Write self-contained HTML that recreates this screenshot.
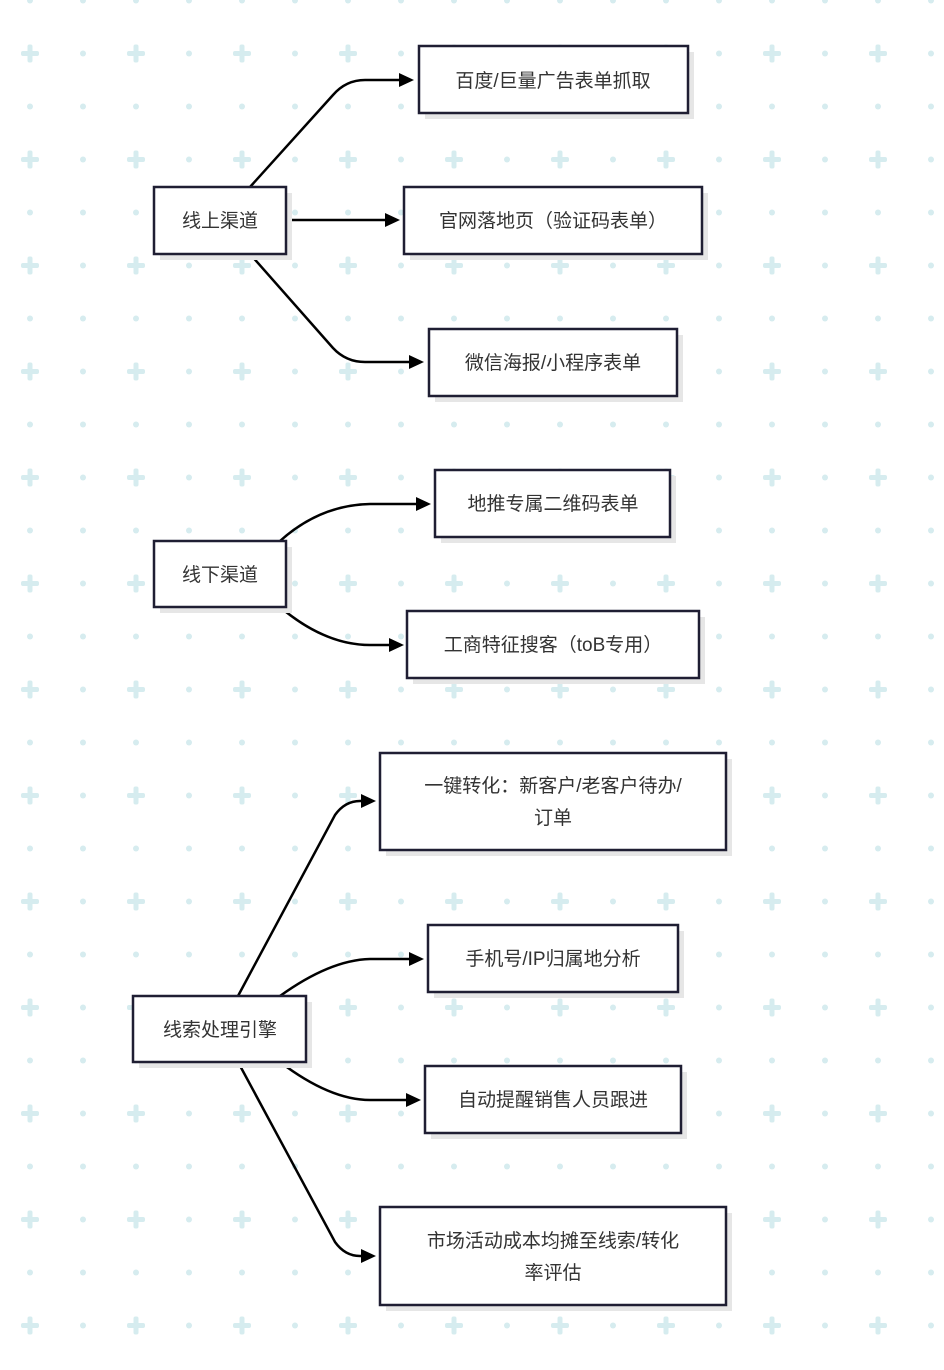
<!DOCTYPE html>
<html><head><meta charset="utf-8"><style>
html,body{margin:0;padding:0;background:#fff;}
svg{display:block;}
text{font-family:"Liberation Sans","Noto Sans CJK SC",sans-serif;font-size:19px;fill:#333;}
</style></head><body>
<svg width="944" height="1370" viewBox="0 0 944 1370" xmlns="http://www.w3.org/2000/svg">
<defs>
<pattern id="g" x="4" y="27" width="106" height="106" patternUnits="userSpaceOnUse">
<rect x="17" y="24" width="18" height="5" rx="2" fill="#d6ecef"/>
<rect x="23.5" y="17.5" width="5" height="18" rx="2" fill="#d6ecef"/>
<circle cx="79" cy="26.5" r="3" fill="#d6ecef"/>
<circle cx="26" cy="79.5" r="3" fill="#d6ecef"/>
<circle cx="79" cy="79.5" r="3" fill="#d6ecef"/>
</pattern>
<marker id="a" viewBox="0 0 10 10" refX="9" refY="5" markerWidth="6" markerHeight="6" markerUnits="userSpaceOnUse" orient="auto">
</marker>
</defs>
<rect width="944" height="1370" fill="url(#g)"/>
<g fill="none" stroke="#000" stroke-width="2.5">
<path d="M250 187 L333 95 Q346 80 365 80 L400 80"/>
<path d="M286 220 L386 220"/>
<path d="M250 254 L333 348 Q346 362 365 362 L410 362"/>
<path d="M280 541 Q320 505 370 504 L418 504"/>
<path d="M280 607 Q325 645 370 645 L390 645"/>
<path d="M238 996 L335 815 Q345 801 360 801 L363 801"/>
<path d="M280 996 Q330 960 370 959 L410 959"/>
<path d="M280 1062 Q330 1100 370 1100 L408 1100"/>
<path d="M238 1062 L335 1242 Q345 1256 360 1256 L363 1256"/>
</g>
<g fill="#000">
<polygon points="414,80 399,73 399,87"/>
<polygon points="400,220 385,213 385,227"/>
<polygon points="424,362 409,355 409,369"/>
<polygon points="431,504 416,497 416,511"/>
<polygon points="404,645 389,638 389,652"/>
<polygon points="376,801 361,794 361,808"/>
<polygon points="424,959 409,952 409,966"/>
<polygon points="421,1100 406,1093 406,1107"/>
<polygon points="376,1256 361,1249 361,1263"/>
</g>
<g fill="#e6e6e6">
<rect x="160" y="193" width="132" height="67"/>
<rect x="425" y="52" width="269" height="67"/>
<rect x="410" y="193" width="298" height="67"/>
<rect x="435" y="335" width="248" height="67"/>
<rect x="160" y="547" width="132" height="66"/>
<rect x="441" y="476" width="235" height="67"/>
<rect x="413" y="617" width="292" height="67"/>
<rect x="139" y="1002" width="173" height="66"/>
<rect x="386" y="759" width="346" height="97"/>
<rect x="434" y="931" width="250" height="67"/>
<rect x="431" y="1072" width="256" height="67"/>
<rect x="386" y="1213" width="346" height="98"/>
</g>
<g fill="#fff" stroke="#1f1e33" stroke-width="2.5">
<rect x="154" y="187" width="132" height="67"/>
<rect x="419" y="46" width="269" height="67"/>
<rect x="404" y="187" width="298" height="67"/>
<rect x="429" y="329" width="248" height="67"/>
<rect x="154" y="541" width="132" height="66"/>
<rect x="435" y="470" width="235" height="67"/>
<rect x="407" y="611" width="292" height="67"/>
<rect x="133" y="996" width="173" height="66"/>
<rect x="380" y="753" width="346" height="97"/>
<rect x="428" y="925" width="250" height="67"/>
<rect x="425" y="1066" width="256" height="67"/>
<rect x="380" y="1207" width="346" height="98"/>
</g>
<g text-anchor="middle">
<text x="220" y="227">线上渠道</text>
<text x="553" y="87">百度/巨量广告表单抓取</text>
<text x="553" y="227">官网落地页（验证码表单）</text>
<text x="553" y="369">微信海报/小程序表单</text>
<text x="220" y="581">线下渠道</text>
<text x="553" y="510">地推专属二维码表单</text>
<text x="553" y="651">工商特征搜客（toB专用）</text>
<text x="220" y="1036">线索处理引擎</text>
<text x="553" y="792">一键转化：新客户/老客户待办/</text>
<text x="553" y="824">订单</text>
<text x="553" y="965">手机号/IP归属地分析</text>
<text x="553" y="1106">自动提醒销售人员跟进</text>
<text x="553" y="1247">市场活动成本均摊至线索/转化</text>
<text x="553" y="1279">率评估</text>
</g>
</svg>
</body></html>
